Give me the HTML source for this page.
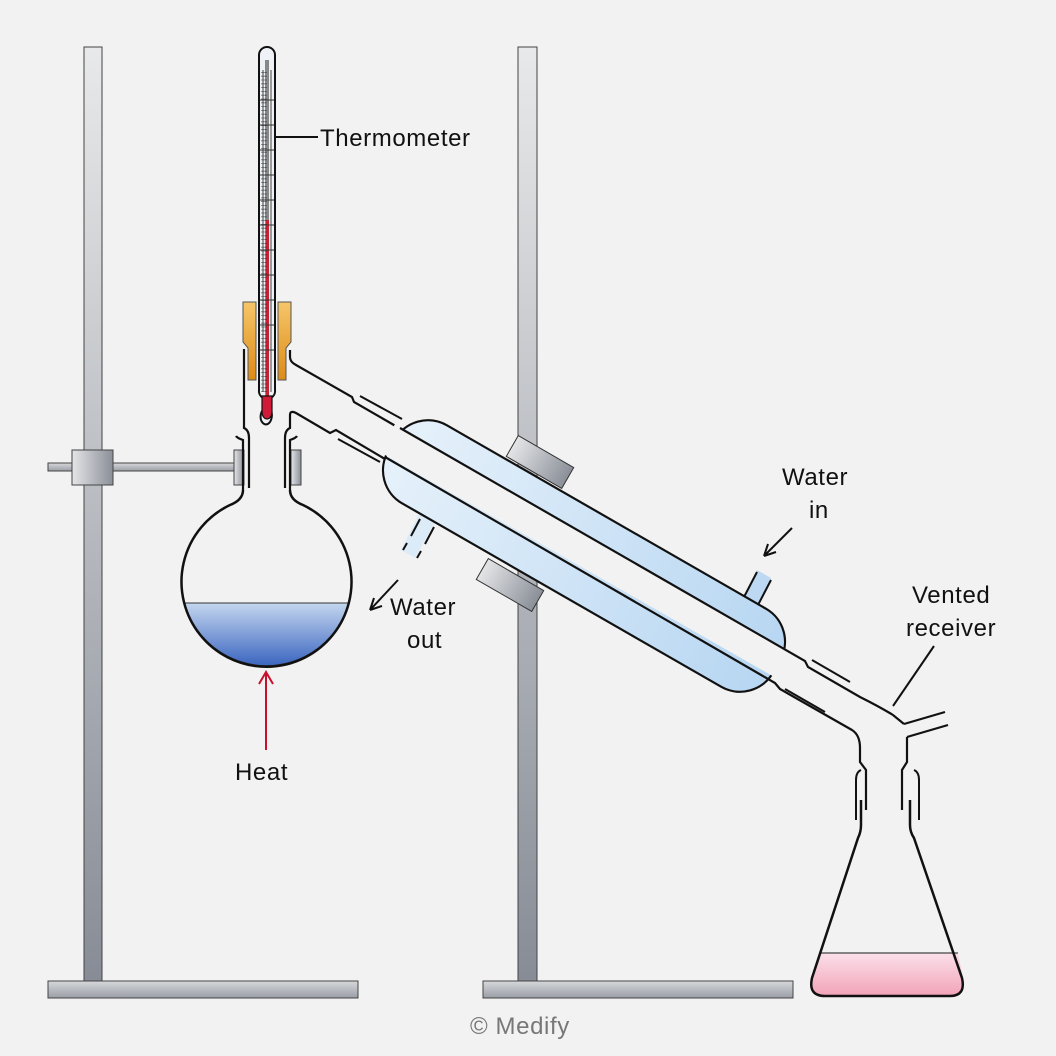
<!DOCTYPE html>
<html><head><style>
html,body{margin:0;padding:0;background:#f2f2f2;}
svg{display:block;}
text{font-family:"Liberation Sans",sans-serif;font-size:24px;fill:#111;letter-spacing:0.6px;}
</style></head><body>
<svg width="1056" height="1056" viewBox="0 0 1056 1056" xmlns="http://www.w3.org/2000/svg">
<defs>
<linearGradient id="rod" x1="0" y1="0" x2="0" y2="1"><stop offset="0" stop-color="#e8e9ea"/><stop offset="1" stop-color="#878c96"/></linearGradient>
<linearGradient id="base" x1="0" y1="0" x2="0" y2="1"><stop offset="0" stop-color="#d6d8db"/><stop offset="1" stop-color="#9a9ea6"/></linearGradient>
<linearGradient id="clamp" x1="0" y1="0" x2="1" y2="0"><stop offset="0" stop-color="#e4e5e7"/><stop offset="1" stop-color="#8a8f98"/></linearGradient>
<linearGradient id="jack" x1="0" y1="0" x2="1" y2="0"><stop offset="0" stop-color="#e6f1fa"/><stop offset="1" stop-color="#b7d6f2"/></linearGradient>
<linearGradient id="blue" x1="0" y1="0" x2="0" y2="1"><stop offset="0" stop-color="#c4d6ef"/><stop offset="1" stop-color="#3b66c0"/></linearGradient>
<linearGradient id="pink" x1="0" y1="0" x2="0" y2="1"><stop offset="0" stop-color="#fbe0ea"/><stop offset="1" stop-color="#f2a3b8"/></linearGradient>
<linearGradient id="cork" x1="0" y1="0" x2="0" y2="1"><stop offset="0" stop-color="#f6c66a"/><stop offset="1" stop-color="#dd8b16"/></linearGradient>
</defs>

<rect x="84" y="47" width="18" height="934" fill="url(#rod)" stroke="#444" stroke-width="1"/>
<rect x="48" y="981" width="310" height="17" fill="url(#base)" stroke="#444" stroke-width="1"/>
<rect x="518" y="47" width="19" height="934" fill="url(#rod)" stroke="#444" stroke-width="1"/>
<rect x="483" y="981" width="310" height="17" fill="url(#base)" stroke="#444" stroke-width="1"/>

<rect x="48" y="463" width="190" height="8" fill="url(#base)" stroke="#444" stroke-width="1"/>
<rect x="72" y="450" width="41" height="35" fill="url(#clamp)" stroke="#444" stroke-width="1"/>
<rect x="234" y="450" width="10" height="35" fill="url(#clamp)" stroke="#444" stroke-width="1"/>
<rect x="291" y="450" width="10" height="35" fill="url(#clamp)" stroke="#444" stroke-width="1"/>

<path d="M243,490 Q243,500 230,505 A85,85 0 1 0 303,505 Q290,500 290,490" fill="#f2f2f2"/>
<path d="M184.5,603 L348.5,603 A85,85 0 0 1 184.5,603 Z" fill="url(#blue)" stroke="#333" stroke-width="1"/>
<path d="M243,490 Q243,500 230,505 A85,85 0 1 0 303,505 Q290,500 290,490" fill="none" stroke="#111" stroke-width="2.5"/>
<path d="M243,490 L243,440 Q237,438 236,436" fill="none" stroke="#111" stroke-width="2.2"/>
<path d="M290,490 L290,440 Q296,438 297,436" fill="none" stroke="#111" stroke-width="2.2"/>
<path d="M249,488 L249,438 Q249,430 244,428 L244,349" fill="none" stroke="#111" stroke-width="2.2"/>
<path d="M285,488 L285,438 Q285,430 290,428 L290,415" fill="none" stroke="#111" stroke-width="2.2"/>

<path d="M290,350 L290,357 Q290,362 296,365 L352,397 L354,402 L406,432" fill="none" stroke="#111" stroke-width="2.2"/>
<path d="M360,396 L402,419" stroke="#111" stroke-width="2"/>
<path d="M290,415 Q290,410 296,413 L330,433 L336,430 L390,462" fill="none" stroke="#111" stroke-width="2.2"/>
<path d="M338,439 L380,462" stroke="#111" stroke-width="2"/>

<g transform="translate(540,462) rotate(30)"><rect x="-32" y="-12" width="64" height="24" fill="url(#clamp)" stroke="#333" stroke-width="1"/></g>
<g transform="translate(510,585) rotate(30)"><rect x="-32" y="-12" width="64" height="24" fill="url(#clamp)" stroke="#333" stroke-width="1"/></g>

<path d="M742,600 L757,570 L771,578 L758,606Z" fill="#bcd8f2"/>
<path d="M420,512 L401,550 L415,558 L436,520Z" fill="#dcebf8"/>

<g transform="translate(584,556) rotate(29.9)">
<rect x="-222" y="-45" width="444" height="90" rx="38" fill="url(#jack)" stroke="#111" stroke-width="2.2"/>
</g>
<path d="M744,597 L757,572 M758,605 L771,580" stroke="#111" stroke-width="2"/>
<path d="M420,519 L411,536 M407,543 L403,550 M434,527 L425,544 M421,551 L417,558" stroke="#111" stroke-width="2"/>

<path d="M395,424 L805,660 L790,686 L380,452 Z" fill="#f2f2f2"/>
<path d="M400,428 L805,661 L808,667 L860,697 Q880,707 893,715 L904,724" fill="none" stroke="#111" stroke-width="2.2"/>
<path d="M812,660 L850,682" stroke="#111" stroke-width="2"/>
<path d="M385,457 L775,683 L780,689 L852,730 Q860,735 860,748 L860,762 L866,770 L866,810" fill="none" stroke="#111" stroke-width="2.2"/>
<path d="M785,689 L825,712" stroke="#111" stroke-width="2"/>
<path d="M904,724 L945,712 M907,737 L948,725" stroke="#111" stroke-width="2.2"/>
<path d="M907,737 L907,762 L902,770 L902,810" fill="none" stroke="#111" stroke-width="2.2"/>

<path d="M861,770 Q856,772 856,780 L856,820" fill="none" stroke="#111" stroke-width="2"/>
<path d="M914,770 Q919,772 919,780 L919,820" fill="none" stroke="#111" stroke-width="2"/>
<path d="M820,953 L958,953 L963,978 Q966,996 950,996 L825,996 Q808,996 812,980 Z" fill="url(#pink)"/>
<line x1="820" y1="953" x2="958" y2="953" stroke="#444" stroke-width="1.2"/>
<path d="M861,825 Q861,832 858,838 L812,978 Q808,996 825,996 L950,996 Q966,996 962,978 L914,838 Q910,832 910,825 L910,800" fill="none" stroke="#111" stroke-width="2.5"/>
<path d="M861,825 L861,800" stroke="#111" stroke-width="2.5"/>

<path d="M243,302 L256,302 L256,380 L248,380 L248,348 L243,342 Z" fill="url(#cork)" stroke="#555" stroke-width="1"/>
<path d="M291,302 L278,302 L278,380 L286,380 L286,348 L291,342 Z" fill="url(#cork)" stroke="#555" stroke-width="1"/>

<path d="M259,55 A8,8 0 0 1 275,55 L275,390 A8,8 0 0 1 271,398 L271,410 A5,8 0 0 1 261,420 A5,8 0 0 1 263,410 L263,398 A8,8 0 0 1 259,390 Z" fill="#eef1f5" stroke="#111" stroke-width="2"/>
<rect x="265" y="60" width="4" height="340" fill="#888"/>
<rect x="266" y="220" width="3" height="180" fill="#c82035"/>
<path d="M263,70 L263,392 M271,70 L271,392" stroke="#444" stroke-width="1"/>
<path d="M264,72 V392" stroke="#222" stroke-width="6" stroke-dasharray="0.8 3" fill="none" opacity="0.6"/>
<path d="M262,396 L272,396 L272,412 A5,7 0 0 1 262,412 Z" fill="#d01a38" stroke="#111" stroke-width="1.2"/>
<g stroke="#333" stroke-width="1">
<line x1="260" y1="100" x2="274" y2="100"/><line x1="260" y1="125" x2="274" y2="125"/><line x1="260" y1="150" x2="274" y2="150"/><line x1="260" y1="175" x2="274" y2="175"/><line x1="260" y1="200" x2="274" y2="200"/><line x1="260" y1="225" x2="274" y2="225"/><line x1="260" y1="250" x2="274" y2="250"/><line x1="260" y1="275" x2="274" y2="275"/><line x1="260" y1="300" x2="274" y2="300"/><line x1="260" y1="325" x2="274" y2="325"/><line x1="260" y1="350" x2="274" y2="350"/>
</g>

<line x1="276" y1="137" x2="318" y2="137" stroke="#111" stroke-width="2"/>
<text x="320" y="146">Thermometer</text>
<text x="782" y="485">Water</text><text x="809" y="518">in</text>
<path d="M792,528 L764,556 M764,556 L768,544 M764,556 L776,552" stroke="#111" stroke-width="2" fill="none"/>
<text x="390" y="615">Water</text><text x="407" y="648">out</text>
<path d="M398,580 L370,610 M370,610 L374,598 M370,610 L382,606" stroke="#111" stroke-width="2" fill="none"/>
<text x="912" y="603">Vented</text><text x="906" y="636">receiver</text>
<line x1="934" y1="646" x2="893" y2="706" stroke="#111" stroke-width="2"/>
<line x1="266" y1="750" x2="266" y2="674" stroke="#c8102e" stroke-width="2"/>
<path d="M259,684 L266,672 L273,684" stroke="#c8102e" stroke-width="2" fill="none"/>
<text x="235" y="780">Heat</text>
<text x="470" y="1034" style="fill:#777">© Medify</text>
</svg>
</body></html>
